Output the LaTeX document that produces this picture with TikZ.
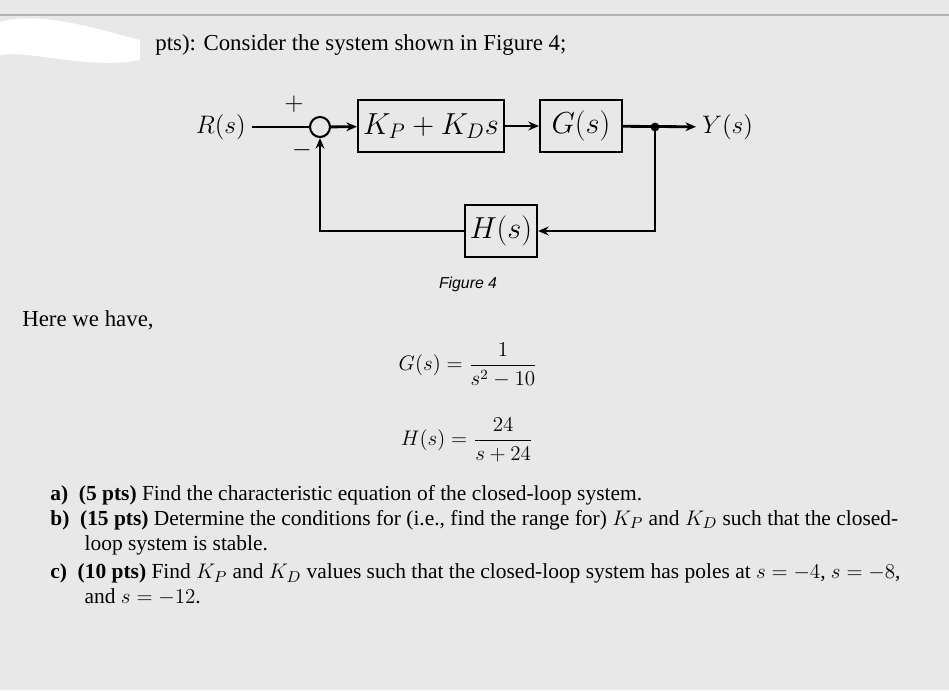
\documentclass[tikz,border=0pt]{standalone}
\usepackage{amsmath}
\usepackage{fontspec}
\setmainfont{Liberation Serif}
\newfontfamily\figsans{Liberation Sans}
\usetikzlibrary{arrows.meta}
\begin{document}
\begin{tikzpicture}[x=0.02cm,y=-0.02cm,
  blk/.style={draw,line width=1.2pt,inner sep=0pt,font=\LARGE},
  con/.style={line width=1.6pt},
  arr/.style={con,-{Stealth[length=6pt,width=5pt]}},
  txt/.style={anchor=west,inner sep=0pt,font=\fontsize{13}{15}\selectfont}]
\fill[gray!18] (0,0) rectangle (949,690);
\useasboundingbox (0,0) rectangle (949,690);
\draw[gray!60,line width=1pt] (0,15) -- (949,15);
\fill[white] (0,22) .. controls (40,10) and (100,30) .. (140,40) -- (140,60) .. controls (90,70) and (30,50) .. (0,55) -- cycle;
\node[txt] (title) at (155,45) {pts): Consider the system shown in Figure 4;};
\node[anchor=east,font=\Large] (R) at (252,127) {$R(s)$};
\node[draw,circle,line width=1.2pt,minimum size=0.4cm,inner sep=0pt] (sum) at (320,127) {};
\node[font=\Large] (plus) at (294,104) {$+$};
\node[font=\Large] (minus) at (302,150) {$-$};
\node[blk,minimum width=2.92cm,minimum height=1.04cm] (K) at (431,126) {$K_P+K_D s$};
\node[blk,minimum width=1.64cm,minimum height=1.04cm] (G) at (581,126) {$G(s)$};
\node[blk,minimum width=1.44cm,minimum height=1.04cm] (H) at (501,231) {$H(s)$};
\node[anchor=west,font=\Large] (Y) at (696,127) {$Y(s)$};
\coordinate (jn) at (655,127);
\draw[con] (R) -- (sum);
\draw[arr] (sum) -- (K);
\draw[arr] (K) -- (G);
\draw[arr] (G) -- (Y);
\fill (jn) circle (2.5pt);
\draw[arr] (jn) |- (H);
\draw[arr] (H) -| (sum);
\node[font=\figsans\itshape\small] (fig) at (468,284) {Figure 4};
\node[txt] (here) at (22,320) {Here we have,};
\node[font=\large] (geq) at (468,365) {$G(s)=\dfrac{1}{s^2-10}$};
\node[font=\large] (heq) at (467,440) {$H(s)=\dfrac{24}{s+24}$};
\node[anchor=north west,inner sep=0pt,font=\fontsize{12.2}{14.2}\selectfont,align=left] (items) at (50,485) {%
\textbf{a)}\enspace\textbf{(5 pts)} Find the characteristic equation of the closed-loop system.\\
\textbf{b)}\enspace\textbf{(15 pts)} Determine the conditions for (i.e., find the range for) $K_P$ and $K_D$ such that the closed-\\
\hspace*{1.6em}loop system is stable.\\[2pt]
\textbf{c)}\enspace\textbf{(10 pts)} Find $K_P$ and $K_D$ values such that the closed-loop system has poles at $s=-4$, $s=-8$,\\
\hspace*{1.6em}and $s=-12$.};
\end{tikzpicture}
\end{document}
